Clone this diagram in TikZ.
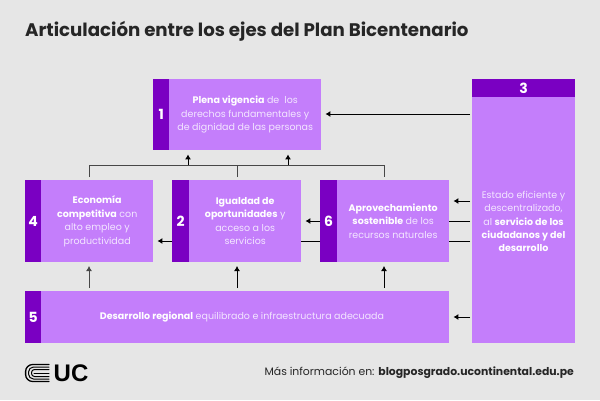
\documentclass[tikz,border=0pt]{standalone}
\usepackage{fontspec}
\setmainfont{Poppins}
\newfontfamily\ucfont{Liberation Sans}
\usetikzlibrary{arrows.meta,calc}
\definecolor{bgc}{HTML}{E6E6E6}
\definecolor{boxc}{HTML}{C47EFB}
\definecolor{tabc}{HTML}{7A00C2}
\definecolor{lite}{HTML}{F3E6FF}
\definecolor{ink}{HTML}{262626}
\newcommand{\hl}[1]{{\bfseries\color{white}#1}}
\tikzset{
 x=1pt,y=-1pt,
 bodybox/.style={draw=none,fill=boxc,inner sep=0pt,anchor=north west,text=lite,align=center,font=\fontsize{9.5}{13.4}\selectfont},
 labeltext/.style={anchor=center,text=lite,align=center,inner sep=0pt,font=\fontsize{9.5}{13.4}\selectfont},
 tabbox/.style={draw=none,fill=tabc,inner sep=0pt,anchor=north west,text=white,font=\fontsize{14}{16}\selectfont\bfseries},
 arr/.style={draw=black,line width=1pt,-{Latex[length=5pt,width=6pt]},shorten >=4pt,shorten <=2pt},
 lin/.style={draw=black,line width=1pt},
 tree/.style={draw=ink!85,line width=1pt},
 logo/.style={draw=black,line width=1pt,line cap=round,line join=round}
}
\begin{document}
\begin{tikzpicture}
\useasboundingbox[fill=bgc] (0,0) rectangle (600,400);
\node[anchor=west,text=ink,font=\fontsize{18.2}{20}\selectfont\bfseries,inner sep=0pt] (title) at (25,31) {Articulación entre los ejes del Plan Bicentenario};
% boxes
\node[tabbox,minimum width=16pt,minimum height=71pt] (t1) at (153,79) {1};
\node[bodybox,minimum width=152pt,minimum height=71pt] (b1) at (169,79) {\hl{Plena vigencia} de~ los\\derechos fundamentales y\\de dignidad de las personas};
\node[tabbox,minimum width=16pt,minimum height=82pt] (t4) at (25,180) {4};
\node[bodybox,minimum width=112pt,minimum height=82pt] (b4) at (41,180) {\hl{Economía}\\\hl{competitiva} con\\alto empleo y\\productividad};
\node[tabbox,minimum width=17pt,minimum height=82pt] (t2) at (172,180) {2};
\node[bodybox,minimum width=112pt,minimum height=82pt] (b2) at (189,180) {\hl{Igualdad de}\\\hl{oportunidades} y\\acceso a los\\servicios};
\node[tabbox,minimum width=17pt,minimum height=82pt] (t6) at (320,180) {6};
\node[bodybox,minimum width=112pt,minimum height=82pt] (b6) at (337,180) {\hl{Aprovechamiento}\\\hl{sostenible} de los\\recursos naturales};
\node[tabbox,minimum width=103pt,minimum height=18pt] (t3) at (472,79) {3};
\node[bodybox,minimum width=103pt,minimum height=246pt] (b3) at (472,97) {};
\node[labeltext] (l3) at (523.5,221.5) {Estado eficiente y\\descentralizado,\\al \hl{servicio de los}\\\hl{ciudadanos y del}\\\hl{desarrollo}};
\node[tabbox,minimum width=16pt,minimum height=52pt] (t5) at (25,291) {5};
\node[bodybox,minimum width=408pt,minimum height=52pt] (b5) at (41,291) {};
\node[labeltext] (l5) at (242,316.5) {\hl{Desarrollo regional} equilibrado e infraestructura adecuada};
% connectors
\draw[arr] (b3.west |- 0,114) -- (b1.east |- 0,114);
\draw[arr] (b3.west |- 0,201) -- (b6.east |- 0,201);
\draw[lin,shorten <=2pt] (b3.west |- 0,221) -- (b6.east |- 0,221);
\draw[lin,shorten <=2pt] (b3.west |- 0,241) -- (b6.east |- 0,241);
\draw[arr] (b3.west |- 0,317) -- (b5.east |- 0,317);
\draw[arr,shorten <=0pt] (t6.west |- 0,221) -- (b2.east |- 0,221);
\draw[lin] (t6.west |- 0,241) -- (b2.east |- 0,241);
\draw[arr,shorten <=0pt] (t2.west |- 0,241) -- (b4.east |- 0,241);
\coordinate (j4) at (89,165);
\coordinate (j2) at (237,165);
\coordinate (j6) at (384,165);
\coordinate (u1) at (188,165);
\coordinate (u2) at (288,165);
\draw[tree,shorten <=3pt,shorten >=3pt] (89,180) -- (j4) -- (j6) -- (384,180);
\draw[tree,shorten <=3pt] (237,180) -- (j2);
\draw[arr,shorten <=0pt] (u1) -- (u1 |- b1.south);
\draw[arr,shorten <=0pt] (u2) -- (u2 |- b1.south);
\draw[arr,draw=ink!85,shorten <=3pt] (b5.north -| 89,0) -- (89,262);
\draw[arr,shorten <=3pt] (b5.north -| 237,0) -- (237,262);
\draw[arr,shorten <=3pt] (b5.north -| 384,0) -- (384,262);
% footer logo
\draw[logo,line width=1.3pt,rounded corners=7pt] (49,364.5) -- (25.6,364.5) -- (25.6,381.5) -- (49,381.5);
\draw[logo,rounded corners=5pt] (49,367) -- (28.5,367) -- (28.5,379) -- (49,379);
\draw[logo,rounded corners=3pt] (49,369.5) -- (31.5,369.5) -- (31.5,376.5) -- (49,376.5);
\draw[logo] (34,373) -- (49,373);
\node[anchor=west,inner sep=0pt,text=black,font=\fontsize{24}{28}\ucfont\bfseries] (uc) at (53.5,373) {UC};
\node[anchor=east,inner sep=0pt,text=ink,font=\fontsize{10.85}{13}\selectfont] (info) at (574,373) {Más información en: \textbf{blogposgrado.ucontinental.edu.pe}};
\end{tikzpicture}
\end{document}
